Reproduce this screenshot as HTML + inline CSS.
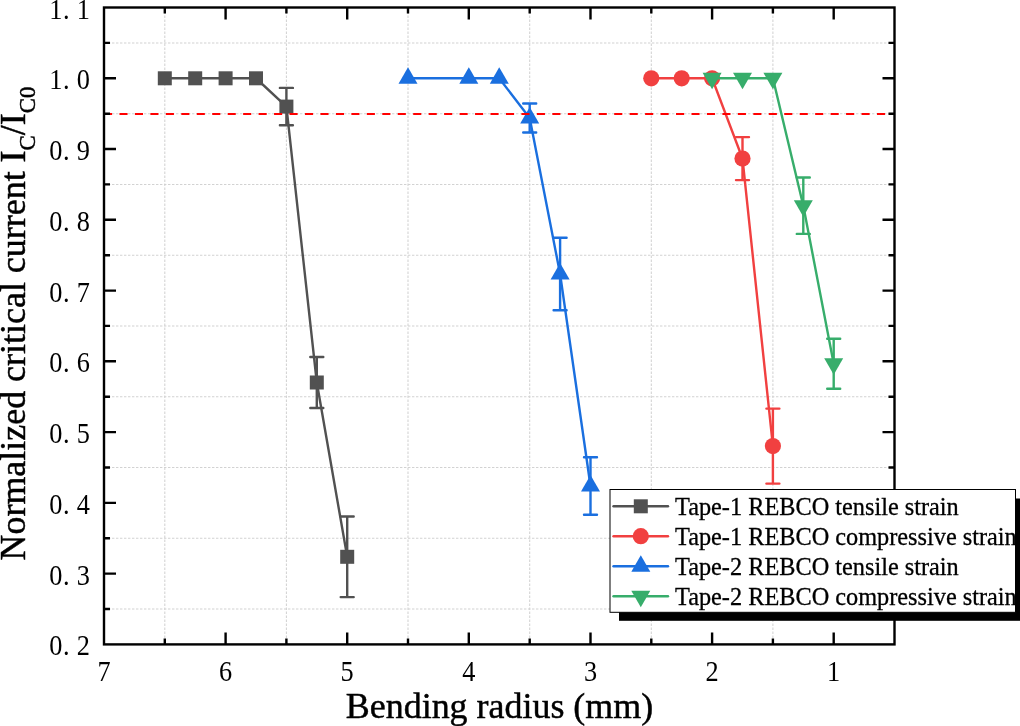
<!DOCTYPE html>
<html lang="en">
<head>
<meta charset="utf-8">
<title>Normalized critical current vs bending radius</title>
<style>
html,body{margin:0;padding:0;background:#fff;}
body{width:1020px;height:726px;overflow:hidden;}
svg{display:block;font-family:"Liberation Serif","Times New Roman",serif;}
.tick{font-size:28px;fill:#000;}
.axl{font-size:35.95px;fill:#000;stroke:#000;stroke-width:0.45px;}
.leg{font-size:24.3px;fill:#000;stroke:#000;stroke-width:0.3px;}
</style>
</head>
<body>
<svg width="1020" height="726" viewBox="0 0 1020 726">
<rect width="1020" height="726" fill="#fff"/>
<g stroke="#d2d2d2" stroke-width="1.05" stroke-dasharray="2.4 1.6" fill="none">
<path d="M164.8 7.5 V644.4"/>
<path d="M286.4 7.5 V644.4"/>
<path d="M408 7.5 V644.4"/>
<path d="M529.7 7.5 V644.4"/>
<path d="M651.3 7.5 V644.4"/>
<path d="M772.9 7.5 V644.4"/>
<path d="M104 42.9 H894.5"/>
<path d="M104 113.7 H894.5"/>
<path d="M104 184.4 H894.5"/>
<path d="M104 255.2 H894.5"/>
<path d="M104 325.9 H894.5"/>
<path d="M104 396.7 H894.5"/>
<path d="M104 467.5 H894.5"/>
<path d="M104 538.3 H894.5"/>
<path d="M104 609 H894.5"/>
</g>
<g stroke="#515151" stroke-width="2.4" fill="none" stroke-linecap="round">
<polyline points="164.8,78.3 195.2,78.3 225.6,78.3 256,78.3 286.4,106.6 316.8,382.5 347.2,556.8"/>
<path d="M286.4 87.9 V125.3 M279.9 87.9 H292.9 M279.9 125.3 H292.9"/>
<path d="M316.8 357 V408 M310.3 357 H323.3 M310.3 408 H323.3"/>
<path d="M347.2 516.5 V597.1 M340.7 516.5 H353.7 M340.7 597.1 H353.7"/>
</g>
<g>
<rect x="157.8" y="71.3" width="14" height="14" fill="#515151"/>
<rect x="188.2" y="71.3" width="14" height="14" fill="#515151"/>
<rect x="218.6" y="71.3" width="14" height="14" fill="#515151"/>
<rect x="249" y="71.3" width="14" height="14" fill="#515151"/>
<rect x="279.4" y="99.6" width="14" height="14" fill="#515151"/>
<rect x="309.8" y="375.5" width="14" height="14" fill="#515151"/>
<rect x="340.2" y="549.8" width="14" height="14" fill="#515151"/>
</g>
<g stroke="#f14040" stroke-width="2.4" fill="none" stroke-linecap="round">
<polyline points="651.3,78.3 681.7,78.3 712.1,78.3 742.5,158.6 772.9,446.1"/>
<path d="M742.5 137.1 V180.1 M736 137.1 H749 M736 180.1 H749"/>
<path d="M772.9 408.6 V483.6 M766.4 408.6 H779.4 M766.4 483.6 H779.4"/>
</g>
<g>
<circle cx="651.3" cy="78.3" r="8.1" fill="#f14040"/>
<circle cx="681.7" cy="78.3" r="8.1" fill="#f14040"/>
<circle cx="712.1" cy="78.3" r="8.1" fill="#f14040"/>
<circle cx="742.5" cy="158.6" r="8.1" fill="#f14040"/>
<circle cx="772.9" cy="446.1" r="8.1" fill="#f14040"/>
</g>
<g stroke="#1a6fdf" stroke-width="2.4" fill="none" stroke-linecap="round">
<polyline points="408,78.3 468.8,78.3 499.2,78.3 529.7,118 560.1,274 590.5,486"/>
<path d="M529.7 103.5 V132.5 M523.2 103.5 H536.2 M523.2 132.5 H536.2"/>
<path d="M560.1 237.8 V310.2 M553.6 237.8 H566.6 M553.6 310.2 H566.6"/>
<path d="M590.5 457.3 V514.7 M584 457.3 H597 M584 514.7 H597"/>
</g>
<g>
<polygon points="408,67.3 417.5,83.8 398.5,83.8" fill="#1a6fdf"/>
<polygon points="468.8,67.3 478.3,83.8 459.3,83.8" fill="#1a6fdf"/>
<polygon points="499.2,67.3 508.8,83.8 489.8,83.8" fill="#1a6fdf"/>
<polygon points="529.7,107 539.2,123.5 520.2,123.5" fill="#1a6fdf"/>
<polygon points="560.1,263 569.6,279.5 550.6,279.5" fill="#1a6fdf"/>
<polygon points="590.5,475 600,491.5 581,491.5" fill="#1a6fdf"/>
</g>
<g stroke="#37ad6b" stroke-width="2.4" fill="none" stroke-linecap="round">
<polyline points="712.1,78.3 742.5,78.3 772.9,78.3 803.3,205.7 833.7,363.8"/>
<path d="M803.3 177.5 V233.9 M796.8 177.5 H809.8 M796.8 233.9 H809.8"/>
<path d="M833.7 338.8 V388.8 M827.2 338.8 H840.2 M827.2 388.8 H840.2"/>
</g>
<g>
<polygon points="712.1,89.2 721.6,72.8 702.6,72.8" fill="#37ad6b"/>
<polygon points="742.5,89.2 752,72.8 733,72.8" fill="#37ad6b"/>
<polygon points="772.9,89.2 782.4,72.8 763.4,72.8" fill="#37ad6b"/>
<polygon points="803.3,216.7 812.8,200.2 793.8,200.2" fill="#37ad6b"/>
<polygon points="833.7,374.8 843.2,358.3 824.2,358.3" fill="#37ad6b"/>
</g>
<path d="M104 113.9 H894.5" stroke="#ff0000" stroke-width="2" stroke-dasharray="8.1 7.36" fill="none"/>
<g stroke="#000" stroke-width="2.4" fill="none">
<rect x="104" y="7.5" width="790.5" height="636.9"/>
<path d="M164.8 644.4 v-6 M164.8 7.5 v6 M225.6 644.4 v-12 M225.6 7.5 v12 M286.4 644.4 v-6 M286.4 7.5 v6 M347.2 644.4 v-12 M347.2 7.5 v12 M408 644.4 v-6 M408 7.5 v6 M468.8 644.4 v-12 M468.8 7.5 v12 M529.7 644.4 v-6 M529.7 7.5 v6 M590.5 644.4 v-12 M590.5 7.5 v12 M651.3 644.4 v-6 M651.3 7.5 v6 M712.1 644.4 v-12 M712.1 7.5 v12 M772.9 644.4 v-6 M772.9 7.5 v6 M833.7 644.4 v-12 M833.7 7.5 v12 M104 42.9 h6 M894.5 42.9 h-6 M104 78.3 h12 M894.5 78.3 h-12 M104 113.7 h6 M894.5 113.7 h-6 M104 149 h12 M894.5 149 h-12 M104 184.4 h6 M894.5 184.4 h-6 M104 219.8 h12 M894.5 219.8 h-12 M104 255.2 h6 M894.5 255.2 h-6 M104 290.6 h12 M894.5 290.6 h-12 M104 325.9 h6 M894.5 325.9 h-6 M104 361.3 h12 M894.5 361.3 h-12 M104 396.7 h6 M894.5 396.7 h-6 M104 432.1 h12 M894.5 432.1 h-12 M104 467.5 h6 M894.5 467.5 h-6 M104 502.9 h12 M894.5 502.9 h-12 M104 538.2 h6 M894.5 538.2 h-6 M104 573.6 h12 M894.5 573.6 h-12 M104 609 h6 M894.5 609 h-6"/>
</g>
<g class="tick">
<text transform="translate(49.3 18.5) scale(0.94 1.04)" x="0 14.6 29.3" y="0">1.1</text>
<text transform="translate(49.3 89.3) scale(0.94 1.04)" x="0 14.6 29.3" y="0">1.0</text>
<text transform="translate(49.3 160) scale(0.94 1.04)" x="0 14.6 29.3" y="0">0.9</text>
<text transform="translate(49.3 230.8) scale(0.94 1.04)" x="0 14.6 29.3" y="0">0.8</text>
<text transform="translate(49.3 301.6) scale(0.94 1.04)" x="0 14.6 29.3" y="0">0.7</text>
<text transform="translate(49.3 372.3) scale(0.94 1.04)" x="0 14.6 29.3" y="0">0.6</text>
<text transform="translate(49.3 443.1) scale(0.94 1.04)" x="0 14.6 29.3" y="0">0.5</text>
<text transform="translate(49.3 513.9) scale(0.94 1.04)" x="0 14.6 29.3" y="0">0.4</text>
<text transform="translate(49.3 584.6) scale(0.94 1.04)" x="0 14.6 29.3" y="0">0.3</text>
<text transform="translate(49.3 655.4) scale(0.94 1.04)" x="0 14.6 29.3" y="0">0.2</text>
<text transform="translate(104 681.2) scale(0.94 1.04)" x="0" y="0" text-anchor="middle">7</text>
<text transform="translate(225.6 681.2) scale(0.94 1.04)" x="0" y="0" text-anchor="middle">6</text>
<text transform="translate(347.2 681.2) scale(0.94 1.04)" x="0" y="0" text-anchor="middle">5</text>
<text transform="translate(468.8 681.2) scale(0.94 1.04)" x="0" y="0" text-anchor="middle">4</text>
<text transform="translate(590.5 681.2) scale(0.94 1.04)" x="0" y="0" text-anchor="middle">3</text>
<text transform="translate(712.1 681.2) scale(0.94 1.04)" x="0" y="0" text-anchor="middle">2</text>
<text transform="translate(833.7 681.2) scale(0.94 1.04)" x="0" y="0" text-anchor="middle">1</text>
</g>
<text class="axl" x="345.8" y="718.2">Bending radius (mm)</text>
<text class="axl" transform="translate(24.8 560.5) rotate(-90)">Normalized critical current I<tspan font-size="22.8px" dy="10">C</tspan><tspan dy="-10">/I</tspan><tspan font-size="22.8px" dy="10">C0</tspan></text>
<rect x="619" y="498.5" width="406" height="122.3" fill="#000"/>
<rect x="610" y="489.5" width="405.5" height="122.8" fill="#fff" stroke="#000" stroke-width="1"/>
<path d="M613.5 506.3 H668" stroke="#515151" stroke-width="2.4" stroke-linecap="round"/>
<rect x="633.8" y="499.3" width="14" height="14" fill="#515151"/>
<text class="leg" x="675" y="515.3">Tape-1 REBCO tensile strain</text>
<path d="M613.5 536.2 H668" stroke="#f14040" stroke-width="2.4" stroke-linecap="round"/>
<circle cx="640.8" cy="536.2" r="8.1" fill="#f14040"/>
<text class="leg" x="675" y="545.2">Tape-1 REBCO compressive strain</text>
<path d="M613.5 566.3 H668" stroke="#1a6fdf" stroke-width="2.4" stroke-linecap="round"/>
<polygon points="640.8,555.3 650.3,571.8 631.3,571.8" fill="#1a6fdf"/>
<text class="leg" x="675" y="575.3">Tape-2 REBCO tensile strain</text>
<path d="M613.5 596.2 H668" stroke="#37ad6b" stroke-width="2.4" stroke-linecap="round"/>
<polygon points="640.8,607.2 650.3,590.7 631.3,590.7" fill="#37ad6b"/>
<text class="leg" x="675" y="605.2">Tape-2 REBCO compressive strain</text>
</svg>
</body>
</html>
